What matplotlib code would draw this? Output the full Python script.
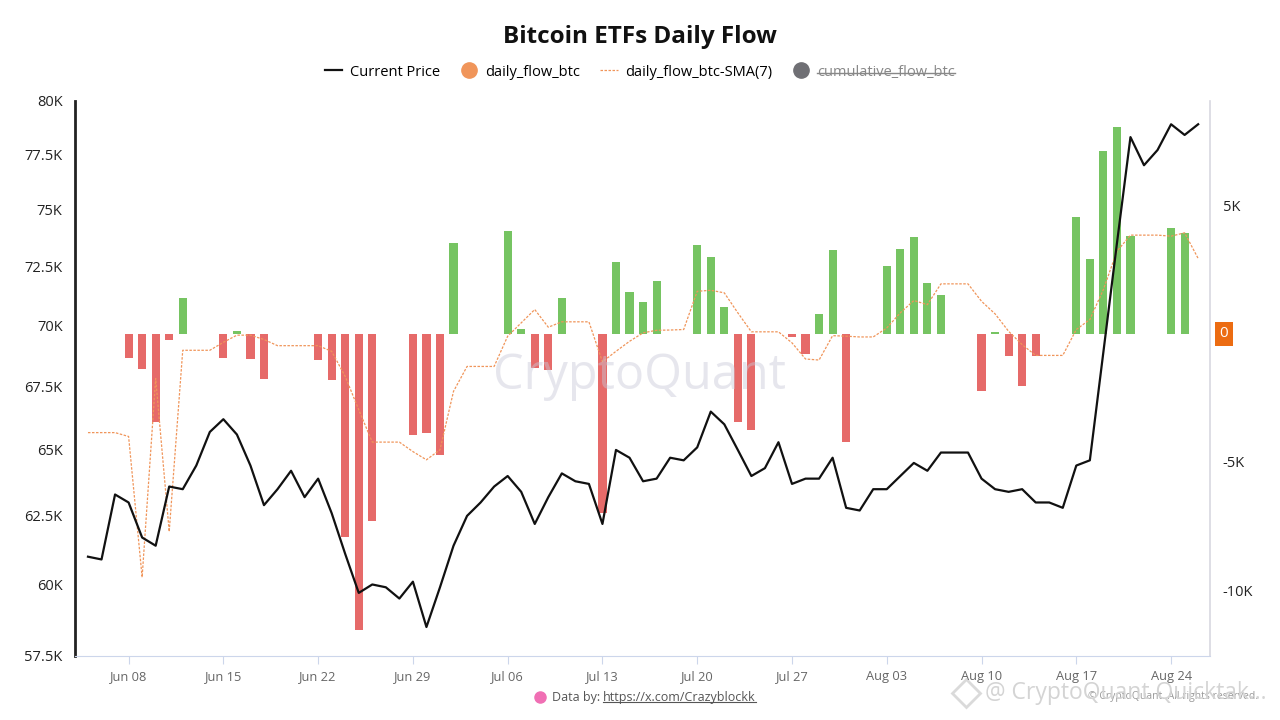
import numpy as np
import pandas as pd
import matplotlib
matplotlib.use("Agg")
import matplotlib.pyplot as plt
from matplotlib.lines import Line2D
from matplotlib.transforms import blended_transform_factory
from matplotlib.ticker import NullLocator

plt.rcParams['font.family'] = ['Open Sans', 'DejaVu Sans']

# daily series, Jun 05 .. Aug 26
dates = pd.date_range('2024-06-05', periods=83, freq='D')

# BTC price, thousands of USD
price_k = [61.0, 60.9, 63.3, 63.0, 61.7, 61.4, 63.6, 63.5, 64.4, 65.7,
           66.2, 65.6, 64.4, 62.9, 63.5, 64.2, 63.2, 63.9, 62.6, 61.1,
           59.7, 60.0, 59.9, 59.5, 60.1, 58.5, 59.9, 61.4, 62.5, 63.0,
           63.6, 64.0, 63.4, 62.2, 63.2, 64.1, 63.8, 63.7, 62.2, 65.0,
           64.7, 63.8, 63.9, 64.7, 64.6, 65.1, 66.5, 66.0, 65.0, 64.0,
           64.3, 65.3, 63.7, 63.9, 63.9, 64.7, 62.8, 62.7, 63.5, 63.5,
           64.0, 64.5, 64.2, 64.9, 64.9, 64.9, 63.9, 63.5, 63.4, 63.5,
           63.0, 63.0, 62.8, 64.4, 64.6, 68.9, 73.5, 78.3, 77.0, 77.7,
           78.9, 78.4, 78.9]

# 7-day SMA of daily flow, thousands of BTC
sma_k = [-3.86, -3.86, -3.86, -4.01, -9.50, -1.75, -7.72, -0.65, -0.65, -0.65,
         -0.34, -0.06, -0.06, -0.23, -0.47, -0.47, -0.47, -0.47, -0.69, -1.67,
         -2.97, -4.23, -4.23, -4.23, -4.60, -4.92, -4.53, -2.25, -1.28, -1.28,
         -1.28, -0.10, 0.42, 0.94, 0.25, 0.46, 0.46, 0.46, -1.10, -0.69,
         -0.30, 0.03, 0.13, 0.14, 0.16, 1.65, 1.69, 1.59, 0.81, 0.07,
         0.07, 0.07, -0.36, -0.99, -1.03, -0.08, -0.10, -0.13, -0.13, 0.22,
         0.81, 1.29, 1.13, 1.94, 1.94, 1.94, 1.26, 0.77, 0.09, -0.43,
         -0.85, -0.85, -0.85, 0.16, 0.55, 1.72, 3.21, 3.84, 3.84, 3.84,
         3.80, 3.93, 2.93]

# daily ETF flow (trading days only), thousands of BTC
flow_day = [3, 4, 5, 6, 7, 10, 11, 12, 13, 17, 18, 19, 20, 21, 24, 25, 26, 27,
            31, 32, 33, 34, 35, 38, 39, 40, 41, 42, 45, 46, 47, 48, 49,
            52, 53, 54, 55, 56, 59, 60, 61, 62, 63, 66, 67, 68, 69, 70,
            73, 74, 75, 76, 77, 80, 81]
flow_k = [-0.95, -1.38, -3.43, -0.26, 1.37, -0.95, 0.09, -0.99, -1.77,
          -1.02, -1.80, -7.94, -11.56, -7.29, -3.95, -3.89, -4.73, 3.53,
          4.02, 0.18, -1.34, -1.41, 1.37, -7.00, 2.79, 1.63, 1.25, 2.04,
          3.46, 2.99, 1.04, -3.43, -3.75, -0.14, -0.79, 0.78, 3.27, -4.22,
          2.63, 3.28, 3.76, 1.98, 1.52, -2.25, 0.07, -0.89, -2.03, -0.89,
          4.55, 2.90, 7.11, 8.06, 3.80, 4.13, 3.92]

price_ticks = [57.5, 60, 62.5, 65, 67.5, 70, 72.5, 75, 77.5, 80]
flow_ticks = [-10, -5, 0, 5]
x_ticks = pd.date_range('2024-06-08', periods=12, freq='7D')

GREEN = '#76c462'
RED = '#e66a69'
ORANGE = '#f0955a'

fig = plt.figure(figsize=(12.8, 7.2), dpi=100)
ax = fig.add_axes([75 / 1280, 1 - 656 / 720, 1135 / 1280, 555 / 720])
ax2 = ax.twinx()
ax.set_zorder(2)
ax.patch.set_visible(False)
ax2.set_zorder(1)

# flows + SMA on right axis
flow_dates = dates[flow_day]
flow_vals = np.array(flow_k) * 1000
ax2.bar(flow_dates, flow_vals, width=0.6,
        color=[GREEN if v >= 0 else RED for v in flow_vals], linewidth=0)
ax2.plot(dates, np.array(sma_k) * 1000, color=ORANGE, lw=0.9, ls=(0, (2, 1.2)))
ax2.set_ylim(-12570, 9070)
ax2.set_yticks([v * 1000 for v in flow_ticks])
ax2.set_yticklabels(['-10K', '-5K', '', '5K'])
ax2.tick_params(axis='y', length=0, pad=9, labelsize=10.5, labelcolor='#222')

# price on left axis (log)
ax.plot(dates, np.array(price_k) * 1000, color='#111', lw=1.6, zorder=5)
ax.set_yscale('log')
ax.set_ylim(57500, 80000)
ax.yaxis.set_minor_locator(NullLocator())
ax.set_yticks([v * 1000 for v in price_ticks])
ax.set_yticklabels([f'{v:g}K' for v in price_ticks])
ax.tick_params(axis='y', length=0, pad=9, labelsize=10.5, labelcolor='#222')

ax.set_xlim(dates[0] - pd.Timedelta(hours=23), dates[-1] + pd.Timedelta(hours=21))
ax.set_xticks(x_ticks)
ax.set_xticklabels([d.strftime('%b %d') for d in x_ticks])
ax.tick_params(axis='x', length=6, color='#ccd6eb', labelsize=9.3,
               labelcolor='#666', pad=4)

for a in (ax, ax2):
    a.spines['top'].set_visible(False)
ax.spines['left'].set_color('#222')
ax.spines['left'].set_linewidth(2)
ax.spines['right'].set_visible(False)
ax.spines['bottom'].set_color('#ccd6eb')
ax2.spines['left'].set_visible(False)
ax2.spines['bottom'].set_visible(False)
ax2.spines['right'].set_color('#d8d8e0')
ax2.spines['right'].set_linewidth(1.2)

# last value label on the flow axis
ax2.text(1.0123, 0, '0', transform=blended_transform_factory(ax2.transAxes, ax2.transData),
         ha='center', va='center', color='white', fontsize=11,
         bbox=dict(boxstyle='square,pad=0.3', fc='#ec6c12', ec='none'))

# watermark
fig.text(0.5, 1 - 376 / 720, 'CryptoQuant', ha='center', va='center',
         fontsize=35, color='#c9c9d8', alpha=0.45, zorder=10)

# title and legend
fig.text(0.5, 1 - 37 / 720, 'Bitcoin ETFs Daily Flow', ha='center', va='center',
         fontsize=17.5, fontweight='bold', color='#111')
handles = [
    Line2D([], [], color='#111', lw=1.6),
    Line2D([], [], ls='none', marker='o', ms=11, color=ORANGE),
    Line2D([], [], color=ORANGE, lw=0.9, ls=(0, (2, 1.2))),
    Line2D([], [], ls='none', marker='o', ms=11, color='#6f6f74'),
]
labels = ['Current Price', 'daily_flow_btc', 'daily_flow_btc-SMA(7)', 'cumulative_flow_btc']
leg = fig.legend(handles, labels, loc='center', bbox_to_anchor=(0.5, 1 - 72 / 720),
                 ncol=4, frameon=False, fontsize=10.5, handlelength=1.2,
                 handletextpad=0.5, columnspacing=1.4)
leg.get_texts()[3].set_color('#888')

# footer
fig.text(552 / 1280, 1 - 697 / 720, 'Data by:', ha='left', va='center',
         fontsize=9, color='#555')
fig.add_artist(Line2D([540 / 1280], [1 - 697 / 720], marker='o', ms=8,
                      color='#f06fb4', transform=fig.transFigure))
link = fig.text(603 / 1280, 1 - 697 / 720, 'https://x.com/Crazyblockk', ha='left',
                va='center', fontsize=9, color='#555')
fig.text(985 / 1280, 1 - 693 / 720, '@ CryptoQuant Quicktak...', ha='left', va='center',
         fontsize=16.5, color='#d4d4d4', zorder=10)
fig.add_artist(Line2D([966 / 1280], [1 - 693 / 720], marker='D', ms=14, mfc='none',
                      mec='#dadada', mew=2, transform=fig.transFigure))
fig.text(1088 / 1280, 1 - 697 / 720, '© CryptoQuant. All rights reserved.', ha='left',
         va='center', fontsize=7.5, color='#999')

# strike through hidden series and underline link
fig.canvas.draw()
r = fig.canvas.get_renderer()
bb = leg.get_texts()[3].get_window_extent(r)
ym = (bb.y0 + bb.y1) / 2 - 1
fig.add_artist(Line2D([bb.x0 / 1280, bb.x1 / 1280], [ym / 720, ym / 720],
                      color='#888', lw=1, transform=fig.transFigure))
lb = link.get_window_extent(r)
fig.add_artist(Line2D([lb.x0 / 1280, lb.x1 / 1280], [(lb.y0 + 2) / 720] * 2,
                      color='#555', lw=0.8, transform=fig.transFigure))

fig.savefig('out.png', dpi=100)
